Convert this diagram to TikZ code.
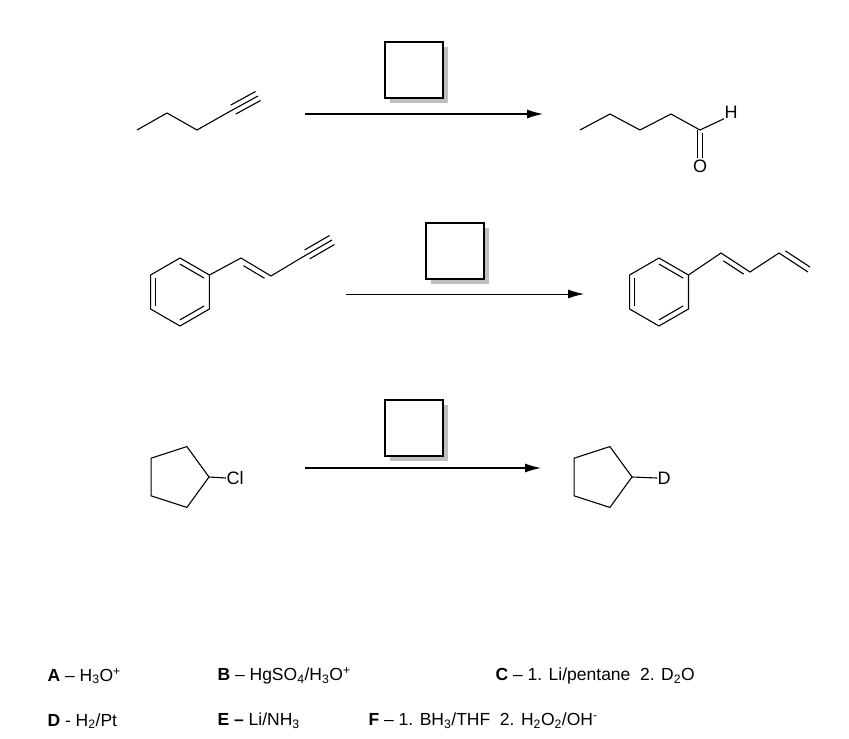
\documentclass[tikz,border=0pt]{standalone}
\usepackage{fontspec}
\setmainfont{Liberation Sans}
\usetikzlibrary{calc,arrows.meta}
\begin{document}
\begin{tikzpicture}[x=1pt,y=-1pt,line width=1.1pt,
  bond/.style={line width=1.1pt},
  rbox/.style={draw,line width=1.2pt,fill=white,minimum width=58pt,minimum height=56pt,inner sep=0pt},
  shadowbox/.style={fill=black!25,minimum width=58pt,minimum height=56pt,inner sep=0pt},
  rxn/.style={line width=1.2pt,-{Latex[length=16pt,width=9pt]}},
  lab/.style={font=\fontsize{18}{20}\selectfont,inner sep=0pt},
  key/.style={font=\fontsize{17.5}{20}\selectfont,anchor=west,inner sep=0pt}]
\useasboundingbox (0,0) rectangle (849,739);
% row 1
\coordinate (p1) at (137,130); \coordinate (p2) at (167,113); \coordinate (p3) at (197,130);
\coordinate (p4) at (227,113); \coordinate (p5) at (258,96);
\draw[bond] (p1)--(p2)--(p3)--(p4)--(p5);
\draw[bond] ($(p4)!0.2!(p5)+(-2.5,-4.5)$) -- ($(p5)+(-2.5,-4.5)$);
\draw[bond] ($(p4)!0.2!(p5)+(2.5,4.5)$) -- ($(p5)+(2.5,4.5)$);
\node[shadowbox] (s1) at (419,75) {};
\node[rbox] (b1) at (414,70) {};
\coordinate (a1s) at (305,114); \coordinate (a1e) at (543,114);
\draw[rxn] (a1s) -- (a1e);
\coordinate (q1) at (580,130); \coordinate (q2) at (610,114); \coordinate (q3) at (640,130);
\coordinate (q4) at (671,114); \coordinate (q5) at (700,130);
\node[lab] (H1) at (731,112) {H};
\node[lab] (O1) at (700,166) {O};
\draw[bond] (q1)--(q2)--(q3)--(q4)--(q5)--(H1.south west);
\draw[bond] ($(q5)+(-2.5,0)$) -- ($(O1.north)+(-2.5,-1)$);
\draw[bond] ($(q5)+(2.5,3)$) -- ($(O1.north)+(2.5,-1)$);
% row 2
\foreach \n/\cx in {r/180,s/659}{
  \foreach \i/\a in {1/-90,2/-30,3/30,4/90,5/150,6/210}
    \coordinate (\n\i) at ($(\cx,292)+(\a:34)$);
}
\foreach \n/\cx in {r/180,s/659}{
  \draw[bond] (\n1)--(\n2)--(\n3)--(\n4)--(\n5)--(\n6)--cycle;
  \draw[bond] ($(\cx,292)!0.82!(\n2)$)--($(\cx,292)!0.82!(\n1)$);
  \draw[bond] ($(\cx,292)!0.82!(\n4)$)--($(\cx,292)!0.82!(\n3)$);
  \draw[bond] ($(\cx,292)!0.82!(\n6)$)--($(\cx,292)!0.82!(\n5)$);
}
\coordinate (c1) at (241,258); \coordinate (c2) at (271,276); \coordinate (c3) at (301,258); \coordinate (c4) at (332,240);
\draw[bond] (r2)--(c1)--(c2)--(c3)--(c4);
\draw[bond] ($(c1)!0.15!(c2)+(-2,5)$) -- ($(c1)!0.85!(c2)+(-2,5)$);
\draw[bond] ($(c3)!0.2!(c4)+(-2.5,-4.5)$) -- ($(c4)+(-2.5,-4.5)$);
\draw[bond] ($(c3)!0.2!(c4)+(2.5,4.5)$) -- ($(c4)+(2.5,4.5)$);
\node[shadowbox] (s2b) at (460,256) {};
\node[rbox] (b2) at (455,251) {};
\coordinate (a2s) at (346,294); \coordinate (a2e) at (584,294);
\draw[rxn,line width=0.9pt] (a2s) -- (a2e);
\coordinate (d1) at (721,253); \coordinate (d2) at (750,272); \coordinate (d3) at (779,253); \coordinate (d4) at (808,272);
\draw[bond] (s2)--(d1)--(d2)--(d3)--(d4);
\draw[bond] ($(d1)!0.15!(d2)+(-2,5)$) -- ($(d1)!0.85!(d2)+(-2,5)$);
\draw[bond] ($(d3)!0.15!(d4)+(2,-5)$) -- ($(d4)+(2,-5)$);
% row 3
\foreach \n/\cx in {u/177,v/600}{
  \foreach \i/\a in {1/0,2/72,3/144,4/216,5/288}
    \coordinate (\n\i) at ($(\cx,477)+(\a:32)$);
  \draw[bond] (\n1)--(\n2)--(\n3)--(\n4)--(\n5)--cycle;
}
\node[lab,anchor=west] (Cl) at (226,478) {Cl};
\draw[bond] (u1)--(Cl.west);
\node[lab,anchor=west] (D) at (657,478) {D};
\draw[bond] (v1)--(D.west);
\node[shadowbox] (s3) at (419,433) {};
\node[rbox] (b3) at (414,428) {};
\coordinate (a3s) at (305,468); \coordinate (a3e) at (541,468);
\draw[rxn] (a3s) -- (a3e);
% key
\node[key] (kA) at (47,676) {\textbf{A} – H\textsubscript{3}O\textsuperscript{+}};
\node[key] (kB) at (217,676) {\textbf{B} – HgSO\textsubscript{4}/H\textsubscript{3}O\textsuperscript{+}};
\node[key] (kC) at (495,676) {\textbf{C} – 1. Li/pentane\ \ 2. D\textsubscript{2}O};
\node[key] (kD) at (47,721) {\textbf{D} - H\textsubscript{2}/Pt};
\node[key] (kE) at (217,721) {\textbf{E –} Li/NH\textsubscript{3}};
\node[key] (kF) at (368,721) {\textbf{F} – 1. BH\textsubscript{3}/THF\ \ 2. H\textsubscript{2}O\textsubscript{2}/OH\textsuperscript{-}};
\end{tikzpicture}
\end{document}
